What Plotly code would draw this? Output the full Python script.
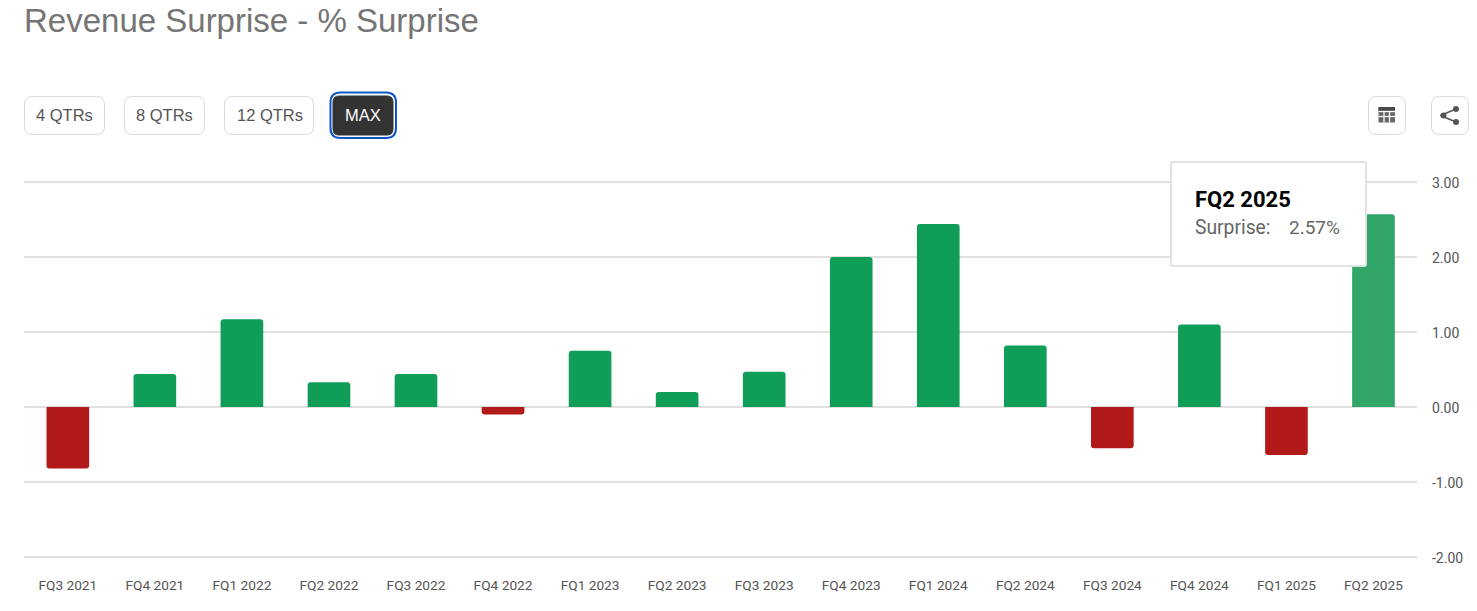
import plotly.graph_objects as go

WIDTH = 1477
HEIGHT = 611

quarters = ['FQ3 2021', 'FQ4 2021', 'FQ1 2022', 'FQ2 2022', 'FQ3 2022', 'FQ4 2022',
            'FQ1 2023', 'FQ2 2023', 'FQ3 2023', 'FQ4 2023', 'FQ1 2024', 'FQ2 2024',
            'FQ3 2024', 'FQ4 2024', 'FQ1 2025', 'FQ2 2025']
surprise = [-0.82, 0.44, 1.17, 0.33, 0.44, -0.10, 0.75, 0.20, 0.47, 2.00, 2.44, 0.82,
            -0.55, 1.10, -0.64, 2.57]
y_ticks = [3, 2, 1, 0, -1, -2]
y_labels = ['3.00', '2.00', '1.00', '0.00', '-1.00', '-2.00']

GREEN = '#0F9D58'
GREEN_HOVER = '#31A668'
RED = '#B21A1A'
GRID = '#E0E0E0'
TEXT = '#555555'


def px(x):
    return x / WIDTH


def py(y):
    return 1 - y / HEIGHT


def round_rect(x0, y0, x1, y1, r):
    # rounded rectangle path, given in screen pixels
    return (
        f"M {px(x0 + r)} {py(y0)} L {px(x1 - r)} {py(y0)} "
        f"Q {px(x1)} {py(y0)} {px(x1)} {py(y0 + r)} L {px(x1)} {py(y1 - r)} "
        f"Q {px(x1)} {py(y1)} {px(x1 - r)} {py(y1)} L {px(x0 + r)} {py(y1)} "
        f"Q {px(x0)} {py(y1)} {px(x0)} {py(y1 - r)} L {px(x0)} {py(y0 + r)} "
        f"Q {px(x0)} {py(y0)} {px(x0 + r)} {py(y0)} Z"
    )


def box(x0, y0, x1, y1, r, fill, line, width=1):
    return dict(type='path', xref='paper', yref='paper', layer='above',
                path=round_rect(x0, y0, x1, y1, r), fillcolor=fill,
                line=dict(color=line, width=width))


def rect(x0, y0, x1, y1, fill):
    return dict(type='rect', xref='paper', yref='paper', layer='above',
                x0=px(x0), x1=px(x1), y0=py(y0), y1=py(y1), fillcolor=fill,
                line=dict(width=0))


def seg(x0, y0, x1, y1, color, width):
    return dict(type='line', xref='paper', yref='paper', layer='above',
                x0=px(x0), x1=px(x1), y0=py(y0), y1=py(y1),
                line=dict(color=color, width=width))


def dot(x, y, r, color):
    return dict(type='circle', xref='paper', yref='paper', layer='above',
                x0=px(x - r), x1=px(x + r), y0=py(y - r), y1=py(y + r),
                fillcolor=color, line=dict(width=0))


def label(x, y, text, size, color, family='Liberation Sans', anchor='left'):
    fig.add_annotation(x=px(x), y=py(y), xref='paper', yref='paper', text=text,
                       showarrow=False, xanchor=anchor, yanchor='middle',
                       font=dict(family=family, size=size, color=color),
                       borderpad=0, borderwidth=0)


colors = [GREEN if v >= 0 else RED for v in surprise]
colors[-1] = GREEN_HOVER

fig = go.Figure()

fig.add_trace(go.Bar(
    x=quarters,
    y=surprise,
    width=0.49,
    marker=dict(color=colors, line=dict(width=0), cornerradius=3),
    hovertemplate='%{x}<br>Surprise: %{y:.2f}%<extra></extra>',
    showlegend=False,
))

shapes = []

# boutons de periode
shapes.append(box(24.5, 96.5, 104.5, 134.5, 8, 'white', '#DADADA'))
shapes.append(box(124.5, 96.5, 204.5, 134.5, 8, 'white', '#DADADA'))
shapes.append(box(224.5, 96.5, 313.5, 134.5, 8, 'white', '#DADADA'))
shapes.append(box(330.5, 92.5, 396, 138, 10, 'white', '#0B57C9', 2))
shapes.append(box(333, 96, 393, 135, 6, '#333333', '#333333'))

# boutons table / partage
shapes.append(box(1368.5, 96.5, 1405.5, 134.5, 8, 'white', '#DADADA'))
shapes.append(box(1431.5, 96.5, 1468.5, 134.5, 8, 'white', '#DADADA'))
shapes.append(rect(1378.5, 107, 1395, 122.5, '#666666'))
shapes.append(rect(1378.5, 107, 1395, 111, '#4A4A4A'))
for gx in [1384, 1389.5]:
    shapes.append(seg(gx, 111, gx, 122.5, 'white', 1.3))
for gy in [111.5, 116.5]:
    shapes.append(seg(1378.5, gy, 1395, gy, 'white', 1.3))
shapes.append(seg(1440.5, 115.5, 1456, 109, '#555555', 1.5))
shapes.append(seg(1440.5, 115.5, 1456, 122, '#555555', 1.5))
shapes.append(dot(1443.5, 115.5, 3, '#555555'))
shapes.append(dot(1456, 109, 3, '#555555'))
shapes.append(dot(1456, 122, 3, '#555555'))

# tooltip
shapes.append(box(1171, 162, 1366, 266, 2, 'white', '#E2E2E2', 2))

fig.update_layout(
    width=WIDTH,
    height=HEIGHT,
    margin=dict(l=0, r=0, t=0, b=0),
    autosize=False,
    paper_bgcolor='white',
    plot_bgcolor='white',
    shapes=shapes,
    bargap=0.51,
    hoverlabel=dict(bgcolor='white', font=dict(family='Roboto')),
)

fig.update_xaxes(
    domain=[px(24.3), px(1417)],
    anchor='y',
    type='category',
    categoryorder='array',
    categoryarray=quarters,
    showgrid=False,
    zeroline=False,
    showline=False,
    ticks='outside',
    ticklen=14,
    tickcolor='rgba(0,0,0,0)',
    tickfont=dict(family='Roboto', size=13.7, color=TEXT),
    automargin=False,
)

# marge de 0.02 sur l'axe : sinon plotly retire les grilles a 3.00 et -2.00
fig.update_yaxes(
    domain=[py(558.5), py(180.5)],
    range=[-2.02, 3.02],
    anchor='free',
    position=px(1431),
    side='right',
    tickmode='array',
    tickvals=y_ticks,
    ticktext=y_labels,
    ticklabelshift=1,
    showgrid=True,
    gridcolor=GRID,
    gridwidth=1.6,
    zeroline=True,
    zerolinecolor=GRID,
    zerolinewidth=1.6,
    showline=False,
    ticks='',
    tickfont=dict(family='Roboto', size=14, color=TEXT),
    automargin=False,
)

label(24, 20, 'Revenue Surprise - % Surprise', 33, '#757575')
label(36, 115, '4 QTRs', 16.5, TEXT)
label(136, 115, '8 QTRs', 16.5, TEXT)
label(237, 115, '12 QTRs', 16.5, TEXT)
label(363, 115, 'MAX', 16.5, 'white', anchor='center')
label(1195, 199, '<b>FQ2 2025</b>', 22, '#000000', family='Roboto')
label(1195, 227, 'Surprise:', 19.3, '#666666', family='Roboto')
label(1289, 227, '2.57%', 19, '#666666', family='Roboto')

fig.write_html("out.html", config=dict(displayModeBar=False),
               post_script="document.body.style.margin='0';")
